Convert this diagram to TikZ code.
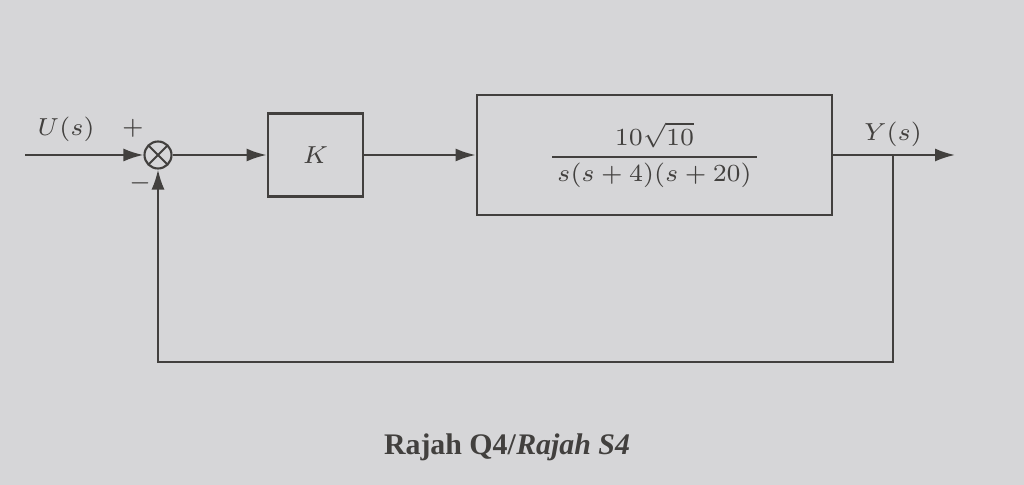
\documentclass[tikz,border=0pt]{standalone}
\usepackage{fontspec}
\setmainfont{Liberation Serif}
\usetikzlibrary{arrows.meta}

\definecolor{paper}{RGB}{214,214,216}
\definecolor{ink}{RGB}{66,64,62}

\begin{document}
\begin{tikzpicture}[font=\fontsize{7.5}{9}\selectfont, color=ink, line width=.6pt]
\tikzset{blk/.style={draw=ink, rectangle, line width=.8pt},
  sig/.style={-{Latex[length=2mm,width=1.3mm]}},
  summ/.style={draw=ink, circle, minimum size=.27cm, inner sep=0pt,
    path picture={\draw (path picture bounding box.north west) -- (path picture bounding box.south east)
      (path picture bounding box.north east) -- (path picture bounding box.south west);}}}

% background
\fill[paper] (0,0) rectangle (10.24,4.85);
\useasboundingbox (0,0) rectangle (10.24,4.85);

% Blocks
\node[summ] (sum) at (1.58,3.30) {};
\node[blk, minimum width=.95cm, minimum height=.83cm] (k) at (3.155,3.30) {$K$};
\node[blk, minimum width=3.55cm, minimum height=1.2cm] (g) at (6.545,3.30)
{$\displaystyle\frac{10\sqrt{10}}{\,s(s+4)(s+20)\,}$};

% Free ends
\coordinate (in) at (.25,3.30);
\coordinate (br) at (8.93,3.30);
\coordinate (out) at (9.55,3.30);
\coordinate (low) at (8.93,1.23);

% Labels
\node (u) at (.66,3.56) {$U(s)$};
\node (y) at (8.93,3.51) {$Y(s)$};
\node (plus) at (1.33,3.57) {\scriptsize $+$};
\node (minus) at (1.40,3.02) {\scriptsize $-$};

\node (cap) at (5.07,.38) {\fontsize{8.5}{10}\selectfont\textbf{Rajah Q4/}\textbf{\textit{Rajah S4}}};

% Connections
\draw[sig] (in) -- (sum);
\draw[sig] (sum) -- (k);
\draw[sig] (k) -- (g);
\draw[sig] (g) -- (out);
\draw[sig] (br) -- (low) -| (sum.south);

\end{tikzpicture}
\end{document}
